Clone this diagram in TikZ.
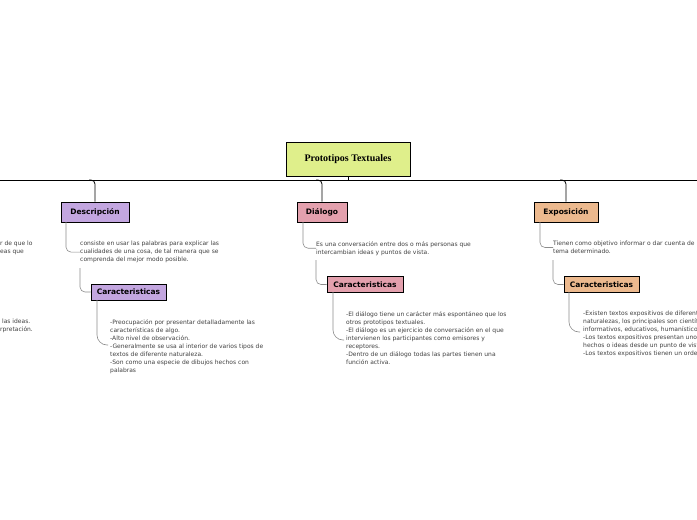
\documentclass[tikz,border=0pt]{standalone}
\usepackage{fontspec}
\setmainfont{DejaVu Sans}
\newfontfamily\titlefont{Liberation Serif}
\begin{document}
\begin{tikzpicture}[x=1pt,y=-1pt,
  main/.style={draw=black,line width=0.8pt,inner sep=0pt,font=\fontsize{7.5}{9}\selectfont\bfseries},
  txt/.style={anchor=north west,align=left,inner sep=0pt,text=black!75,font=\fontsize{6}{8}\selectfont},
  con/.style={draw=black!45,line width=0.6pt,rounded corners=5pt},
  top/.style={draw=black,line width=0.8pt,rounded corners=4pt}]
\useasboundingbox (0,0) rectangle (697,520);
\clip (0,0) rectangle (697,520);
\definecolor{cg}{HTML}{DFEF8B}\definecolor{cp}{HTML}{C3A6E0}
\definecolor{cr}{HTML}{E3A0AD}\definecolor{co}{HTML}{ECB98E}
\node[main,fill=cg,minimum width=124,minimum height=34,font=\titlefont\bfseries\fontsize{10}{12}\selectfont] (root) at (348,159) {Prototipos Textuales};
\coordinate (hl) at (0,180);\coordinate (hr) at (697,180);
\node[main,fill=cp,minimum width=68,minimum height=20] (d) at (95,212) {Descripción};
\node[main,fill=cr,minimum width=50,minimum height=20] (g) at (322,212) {Diálogo};
\node[main,fill=co,minimum width=64,minimum height=20] (e) at (566,212) {Exposición};
\draw[black,line width=0.8pt] (hl) -- (hr);
\draw[black,line width=0.8pt] (root.south) -- (348,180);
\foreach \n in {d,g,e}{\draw[top] (\n.north |- hl) ++(-6,0) -- ++(6,0) -- (\n.north);}
% description
\node[txt] (dt) at (80,241) {consiste en usar las palabras para explicar las\\cualidades de una cosa, de tal manera que se\\comprenda del mejor modo posible.};
\draw[con] (66,222) |- (dt.west);
\node[main,fill=cp,minimum width=75,minimum height=16] (dc) at (128.5,292) {Caracteristicas};
\draw[con] (80,268) |- (dc.west);
\node[txt] (dct) at (110,319) {-Preocupación por presentar detalladamente las\\características de algo.\\-Alto nivel de observación.\\-Generalmente se usa al interior de varios tipos de\\textos de diferente naturaleza.\\-Son como una especie de dibujos hechos con\\palabras};
\draw[con,rounded corners=10pt] (97,300) |- (108,345);
% dialogo
\node[txt] (gt) at (316,241) {Es una conversación entre dos o más personas que\\intercambian ideas y puntos de vista.};
\draw[con] (303,222) |- (gt.west);
\node[main,fill=cr,minimum width=76,minimum height=16] (gc) at (365,284.5) {Caracteristicas};
\draw[con] (316,260) |- (gc.west);
\node[txt] (gct) at (346,311) {-El diálogo tiene un carácter más espontáneo que los\\otros prototipos textuales.\\-El diálogo es un ejercicio de conversación en el que\\intervienen los participantes como emisores y\\receptores.\\-Dentro de un diálogo todas las partes tienen una\\función activa.};
\draw[con,rounded corners=10pt] (333,292) |- (344,340);
% exposicion
\node[txt] (et) at (553,241) {Tienen como objetivo informar o dar cuenta de un\\tema determinado.};
\draw[con] (540,222) |- (et.west);
\node[main,fill=co,minimum width=75,minimum height=16] (ec) at (601.5,284.5) {Caracteristicas};
\draw[con] (553,260) |- (ec.west);
\node[txt] (ect) at (583,311) {-Existen textos expositivos de diferentes\\naturalezas, los principales son científicos,\\informativos, educativos, humanísticos.\\-Los textos expositivos presentan unos\\hechos o ideas desde un punto de vista\\-Los textos expositivos tienen un orden};
\draw[con,rounded corners=10pt] (569,292) |- (580,332);
% left cut-off
\node[txt] (l1) at (0,241) {r de que lo\\eas que};
\node[txt] (l2) at (0,319) {\ las ideas.\\rpretación.};
\end{tikzpicture}
\end{document}
